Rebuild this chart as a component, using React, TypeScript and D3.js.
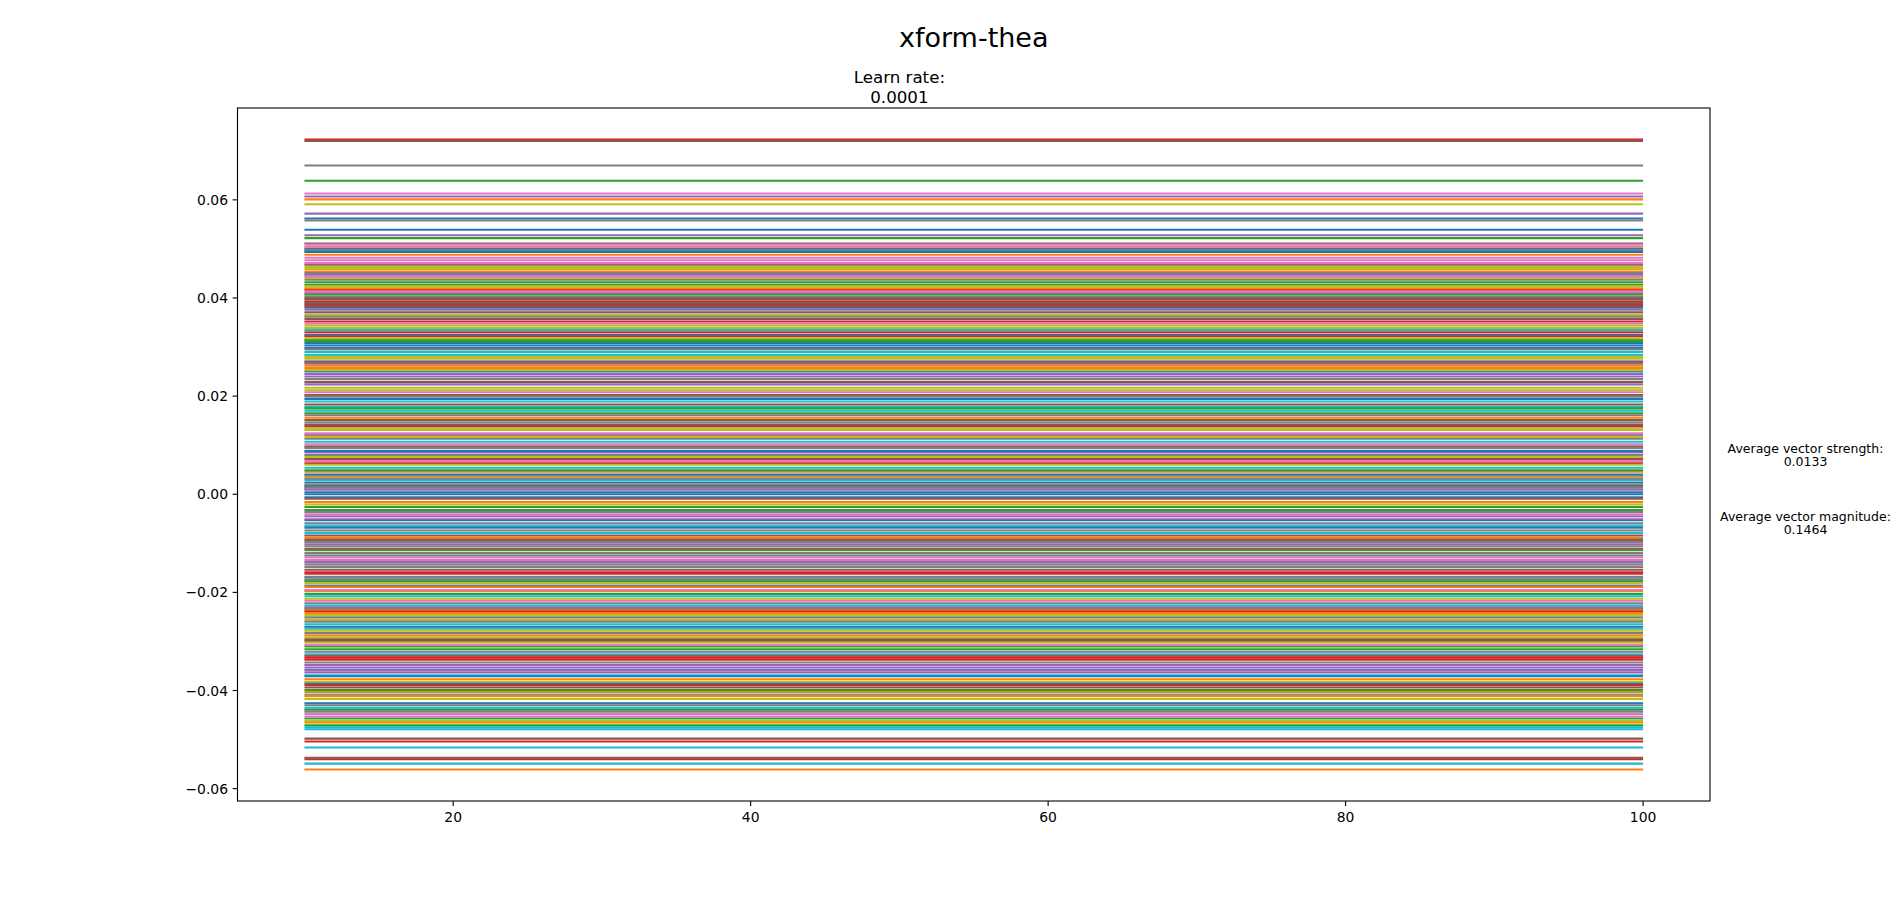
import React from "react";
import * as d3 from "d3";

// epochs at which every vector component was logged
const epochs = [10, 20, 30, 40, 50, 60, 70, 80, 90, 100];

// component levels, grouped by the colour they got from the tab10 cycle
const blueLevels = [0.0562, 0.0539, 0.05, 0.0494, 0.038, 0.0325, 0.0308, 0.0303, 0.0298, 0.025, 0.0194, 0.0088, 0.004, 0.0024, 0.0017, 0.0004, 0.0, -0.0006, -0.0053, -0.0068, -0.027, -0.0371, -0.0385, -0.0426];
const orangeLevels = [0.0601, 0.0495, 0.0488, 0.0454, 0.042, 0.0262, 0.0257, 0.0156, 0.0046, 0.0036, 0.002, 0.0011, -0.0016, -0.0089, -0.0189, -0.0197, -0.0235, -0.0242, -0.0288, -0.0377, -0.0403, -0.0411, -0.0465, -0.0561];
const greenLevels = [0.0639, 0.0522, 0.0432, 0.0427, 0.0407, 0.0315, 0.0312, 0.0175, 0.0165, 0.0049, -0.0026, -0.0032, -0.0114, -0.0177, -0.0203, -0.031, -0.0316, -0.0399, -0.0439, -0.0457, -0.0471];
const redLevels = [0.0723, 0.0417, 0.0393, 0.0386, 0.0352, 0.033, 0.0322, 0.0138, 0.0063, -0.0159, -0.0162, -0.0238, -0.0329, -0.0333, -0.0337, -0.0389, -0.0504, -0.054];
const purpleLevels = [0.0607, 0.0572, 0.0528, 0.0447, 0.0376, 0.0271, 0.0245, 0.024, 0.0224, 0.0121, 0.0085, 0.0009, -0.0045, -0.0102, -0.0138, -0.0231, -0.0348, -0.0353, -0.0358, -0.0363];
const brownLevels = [0.072, 0.0511, 0.0468, 0.04, 0.0397, 0.039, 0.0383, 0.0371, 0.0357, 0.0269, 0.0229, 0.0202, 0.0183, 0.0151, 0.0141, 0.0097, 0.0072, -0.0009, -0.0084, -0.0093, -0.0111, -0.0154, -0.0295, -0.0299, -0.0394, -0.0498, -0.0537];
const pinkLevels = [0.0613, 0.0509, 0.0505, 0.0482, 0.0477, 0.0471, 0.0444, 0.0413, 0.0348, 0.0208, 0.0124, 0.0102, 0.0068, 0.0013, -0.0041, -0.005, -0.0129, -0.0134, -0.0195, -0.0217, -0.0307, -0.0448, -0.0453];
const grayLevels = [0.067, 0.0558, 0.0498, 0.0451, 0.0437, 0.041, 0.0403, 0.0362, 0.0295, 0.0266, 0.0235, 0.0199, 0.0161, 0.0146, 0.0113, 0.0094, 0.008, 0.0032, 0.0014, -0.0036, -0.0059, -0.0074, -0.0097, -0.0106, -0.012, -0.0125, -0.0143, -0.0148, -0.0168, -0.0174, -0.0186, -0.0222, -0.0233, -0.0251, -0.026, -0.0283, -0.0321, -0.0343, -0.043, -0.0443];
const oliveLevels = [0.0591, 0.0504, 0.0463, 0.0459, 0.0441, 0.0424, 0.0366, 0.0344, 0.0339, 0.0318, 0.028, 0.0276, 0.0253, 0.0217, 0.0212, 0.0134, 0.0131, 0.0117, 0.0076, 0.006, -0.0021, -0.0181, -0.0213, -0.0246, -0.0256, -0.0278, -0.0292, -0.0302, -0.0382, -0.0417, -0.0462];
const cyanLevels = [0.0335, 0.029, 0.0284, 0.0189, 0.0178, 0.017, 0.0107, 0.0054, 0.0029, -0.0064, -0.0079, -0.017, -0.0208, -0.0227, -0.0265, -0.0274, -0.0326, -0.0369, -0.0408, -0.0435, -0.0475, -0.0479, -0.0516, -0.0549];

const xTicks = [20, 40, 60, 80, 100];
const yTicks = [-0.06, -0.04, -0.02, 0.0, 0.02, 0.04, 0.06];

const chartTitle = "xform-thea";
const learnRate = "0.0001";
const avgStrength = "0.0133";
const avgMagnitude = "0.1464";

const W = 1900;
const H = 900;
const margin = {top: 108, right: 190, bottom: 99, left: 237.5};
const font = "DejaVu Sans, sans-serif";

const App = () => {
    const groups = [blueLevels, orangeLevels, greenLevels, redLevels, purpleLevels,
        brownLevels, pinkLevels, grayLevels, oliveLevels, cyanLevels];
    const colors = d3.schemeCategory10;

    // interleave like the matplotlib colour cycle
    const series: {level: number, color: string}[] = [];
    const longest = d3.max(groups, g => g.length) as number;
    for (let k = 0; k < longest; k++) {
        groups.forEach((g, c) => {
            if (k < g.length) series.push({level: g[k], color: colors[c]});
        });
    }

    const pad = (lo: number, hi: number) => [lo - (hi - lo) * 0.05, hi + (hi - lo) * 0.05];
    const [x0, x1] = pad(d3.min(epochs) as number, d3.max(epochs) as number);
    const allLevels = series.map(s => s.level);
    const [y0, y1] = pad(d3.min(allLevels) as number, d3.max(allLevels) as number);

    const x = d3.scaleLinear().domain([x0, x1]).range([margin.left, W - margin.right]);
    const y = d3.scaleLinear().domain([y0, y1]).range([H - margin.bottom, margin.top]);

    const line = d3.line<number>().x((_, i) => x(epochs[i])).y(d => y(d));

    const fmt = (v: number) => v.toFixed(2).replace("-", "\u2212");
    const left = margin.left, right = W - margin.right, top = margin.top, bottom = H - margin.bottom;

    return (
        <div style={{position: "fixed", left: 0, top: 0, background: "#fff"}}>
            <svg width={W} height={H} style={{display: "block"}} fontFamily={font}>
                <rect width={W} height={H} fill="#fff"/>
                <g fill="none" strokeWidth={2.08} strokeLinecap="butt">
                    {series.map((s, i) => (
                        <path key={i} d={line(epochs.map(() => s.level)) as string} stroke={s.color}/>
                    ))}
                </g>
                <rect x={left} y={top} width={right - left} height={bottom - top}
                      fill="none" stroke="#000" strokeWidth={1.1}/>
                {xTicks.map(t => (
                    <g key={t} transform={`translate(${x(t)},${bottom})`}>
                        <line y2={4.9} stroke="#000" strokeWidth={1.1}/>
                        <text y={21} textAnchor="middle" fontSize={13.9} fill="#000">{t}</text>
                    </g>
                ))}
                {yTicks.map(t => (
                    <g key={t} transform={`translate(${left},${y(t)})`}>
                        <line x2={-4.9} stroke="#000" strokeWidth={1.1}/>
                        <text x={-9.5} dy="0.36em" textAnchor="end" fontSize={13.9} fill="#000">{fmt(t)}</text>
                    </g>
                ))}
                <text x={(left + right) / 2} y={46.5} textAnchor="middle" fontSize={27} fill="#000">{chartTitle}</text>
                <text x={x(50)} textAnchor="middle" fontSize={16.67} fill="#000">
                    <tspan x={x(50)} y={83.3}>Learn rate:</tspan>
                    <tspan x={x(50)} y={102.7}>{learnRate}</tspan>
                </text>
                <text textAnchor="middle" fontSize={12.5} fill="#000">
                    <tspan x={1805.5} y={452.5}>Average vector strength:</tspan>
                    <tspan x={1805.5} y={466.3}>{avgStrength}</tspan>
                    <tspan x={1805.5} y={520.6}>Average vector magnitude:</tspan>
                    <tspan x={1805.5} y={533.8}>{avgMagnitude}</tspan>
                </text>
            </svg>
        </div>
    );
};

export default App;
